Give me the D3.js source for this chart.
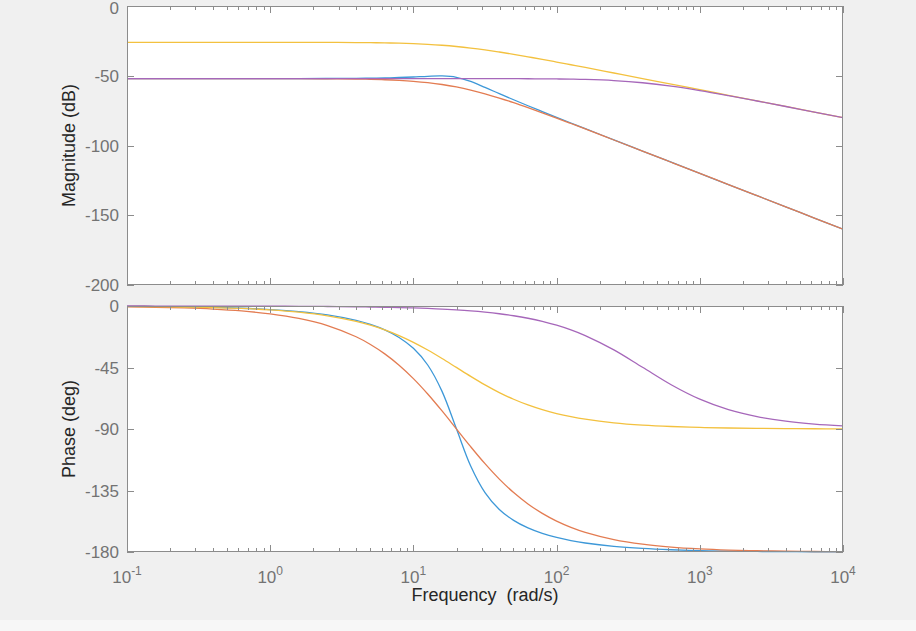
<!DOCTYPE html>
<html>
<head>
<meta charset="utf-8">
<script src="https://cdn.jsdelivr.net/npm/d3@7/dist/d3.min.js"></script>
<style>
  html, body { margin: 0; padding: 0; background: #f0f0f0; }
  svg { display: block; }
  text { font-family: "Liberation Sans", Arial, Helvetica, sans-serif; }
</style>
</head>
<body>
<svg id="chart" width="916" height="631"></svg>
<script>
// ---------- data ----------
const freq = [0.1, 0.1585, 0.2512, 0.3981, 0.631, 1, 1.585, 2.512, 3.981, 5.012, 6.31, 7.943,
  10, 12.59, 15.85, 19.95, 25.12, 31.62, 39.81, 50.12, 63.1, 79.43, 100, 125.9, 158.5,
  251.2, 398.1, 631, 1000, 1585, 2512, 3981, 6310, 10000];

const magBlue = [-52.04, -52.04, -52.04, -52.04, -52.04, -52.03, -52.01, -51.96, -51.84, -51.72, -51.54, -51.27,
  -50.88, -50.40, -50.15, -51.10, -54.11, -58.35, -62.83, -67.22, -71.50, -75.68, -79.80, -83.87, -87.92,
  -95.97, -103.99, -111.99, -120.00, -128.00, -136.00, -144.00, -152.00, -160.00];
const magOrange = [-52.04, -52.04, -52.04, -52.04, -52.05, -52.06, -52.10, -52.18, -52.38, -52.56, -52.86, -53.32,
  -53.98, -54.94, -56.28, -58.04, -60.26, -62.92, -65.96, -69.28, -72.84, -76.54, -80.34, -84.22, -88.14,
  -96.06, -104.02, -112.00, -120.00, -128.00, -136.00, -144.00, -152.00, -160.00];
const magYellow = [-26.02, -26.02, -26.02, -26.02, -26.03, -26.03, -26.05, -26.09, -26.19, -26.28, -26.43, -26.66,
  -26.99, -27.47, -28.14, -29.02, -30.13, -31.46, -32.98, -34.64, -36.42, -38.27, -40.17, -42.11, -44.07,
  -48.03, -52.01, -56.00, -60.00, -64.00, -68.00, -72.00, -76.00, -80.00];
const magPurple = [-52.04, -52.04, -52.04, -52.04, -52.04, -52.04, -52.04, -52.04, -52.04, -52.04, -52.04, -52.04,
  -52.04, -52.05, -52.05, -52.05, -52.06, -52.07, -52.08, -52.11, -52.15, -52.21, -52.30, -52.45, -52.67,
  -53.48, -55.03, -57.47, -60.64, -64.27, -68.11, -72.04, -76.02, -80.01];

const phBlue = [-0.26, -0.41, -0.65, -1.03, -1.63, -2.58, -4.11, -6.55, -10.57, -13.53, -17.50, -23.00,
  -30.96, -43.17, -62.46, -89.70, -117.06, -136.51, -148.84, -156.87, -162.40, -166.40, -169.38, -171.66, -173.42,
  -175.88, -177.40, -178.36, -178.97, -179.35, -179.59, -179.74, -179.84, -179.90];
const phOrange = [-0.57, -0.91, -1.44, -2.28, -3.62, -5.72, -9.06, -14.32, -22.52, -28.14, -35.02, -43.32,
  -53.13, -64.38, -76.80, -89.86, -102.94, -115.38, -126.66, -136.50, -144.82, -151.72, -157.38, -161.94, -165.62,
  -170.90, -174.24, -176.36, -177.70, -178.56, -179.08, -179.42, -179.64, -179.78];
const phYellow = [-0.29, -0.45, -0.72, -1.14, -1.81, -2.86, -4.53, -7.16, -11.26, -14.07, -17.51, -21.66,
  -26.57, -32.19, -38.40, -44.93, -51.47, -57.69, -63.33, -68.25, -72.41, -75.87, -78.69, -80.97, -82.81,
  -85.45, -87.12, -88.18, -88.85, -89.28, -89.54, -89.71, -89.82, -89.89];
const phPurple = [-0.01, -0.02, -0.04, -0.06, -0.09, -0.14, -0.23, -0.36, -0.57, -0.72, -0.90, -1.14,
  -1.43, -1.80, -2.27, -2.86, -3.59, -4.52, -5.68, -7.14, -8.96, -11.23, -14.04, -17.47, -21.62,
  -32.13, -44.86, -57.63, -68.20, -75.84, -80.95, -84.26, -86.37, -87.71];

const magTicks = [0, -50, -100, -150, -200];
const phaseTicks = [0, -45, -90, -135, -180];
const freqMajor = [0.1, 1, 10, 100, 1000, 10000];
const freqExp = ["-1", "0", "1", "2", "3", "4"];
const magLabel = "Magnitude (dB)";
const phaseLabel = "Phase (deg)";
const freqLabel = "Frequency  (rad/s)";
const seriesColors = ["#3d98d8", "#e37c52", "#f3c13f", "#a667ba"];

// ---------- layout ----------
const svg = d3.select("#chart");
svg.append("rect").attr("x", 0).attr("y", 0).attr("width", 916).attr("height", 631).attr("fill", "#f0f0f0");
svg.append("rect").attr("x", 0).attr("y", 620).attr("width", 916).attr("height", 11).attr("fill", "#f7f7f7");

const L = 127, R = 843;
const x = d3.scaleLog().domain([0.1, 10000]).range([L, R]);
const yMag = d3.scaleLinear().domain([-200, 0]).range([285, 6]);
const yPh = d3.scaleLinear().domain([-180, 0]).range([552, 306]);

const minor = [];
for (let d = -1; d < 4; d++) for (let k = 2; k <= 9; k++) minor.push(k * Math.pow(10, d));

const boxColor = "#8c8c8c";
const tickTextColor = "#737373";

function panel(id, yScale, yTicks, seriesMag, yLabel, showX) {
  const [y0, y1] = yScale.range(); // bottom, top
  const g = svg.append("g");
  g.append("rect").attr("x", L).attr("y", y1).attr("width", R - L).attr("height", y0 - y1).attr("fill", "#ffffff");
  g.append("clipPath").attr("id", id).append("rect")
    .attr("x", L).attr("y", y1 - 1).attr("width", R - L).attr("height", y0 - y1 + 2);

  const line = d3.line().x((d, i) => x(freq[i])).y(d => yScale(d)).curve(d3.curveCatmullRom.alpha(0.5));
  const lines = g.append("g").attr("clip-path", `url(#${id})`);
  seriesMag.forEach((s, i) => {
    lines.append("path").attr("d", line(s)).attr("fill", "none")
      .attr("stroke", seriesColors[i]).attr("stroke-width", 1.3).attr("stroke-linejoin", "round");
  });

  // box
  g.append("rect").attr("x", L + 0.5).attr("y", y1 + 0.5).attr("width", R - L - 1).attr("height", y0 - y1 - 1)
    .attr("fill", "none").attr("stroke", boxColor).attr("stroke-width", 1);

  // x ticks (inside, both top and bottom)
  const tk = g.append("g").attr("stroke", boxColor).attr("stroke-width", 1);
  freqMajor.forEach(f => {
    const px = Math.round(x(f)) + 0.5;
    tk.append("line").attr("x1", px).attr("x2", px).attr("y1", y0).attr("y2", y0 - 7);
    tk.append("line").attr("x1", px).attr("x2", px).attr("y1", y1).attr("y2", y1 + 7);
  });
  minor.forEach(f => {
    const px = Math.round(x(f)) + 0.5;
    tk.append("line").attr("x1", px).attr("x2", px).attr("y1", y0).attr("y2", y0 - 4);
    tk.append("line").attr("x1", px).attr("x2", px).attr("y1", y1).attr("y2", y1 + 4);
  });
  // y ticks
  yTicks.forEach(t => {
    const py = Math.round(yScale(t)) + 0.5;
    tk.append("line").attr("x1", L).attr("x2", L + 7).attr("y1", py).attr("y2", py);
    tk.append("line").attr("x1", R).attr("x2", R - 7).attr("y1", py).attr("y2", py);
    g.append("text").attr("x", L - 8).attr("y", Math.max(yScale(t), 8)).attr("dy", "0.36em")
      .attr("text-anchor", "end").attr("font-size", 17).attr("fill", tickTextColor).text(t);
  });

  g.append("text")
    .attr("transform", `translate(75,${(y0 + y1) / 2}) rotate(-90)`)
    .attr("text-anchor", "middle").attr("font-size", 18).attr("fill", "#262626").text(yLabel);

  if (showX) {
    freqMajor.forEach((f, i) => {
      const t = g.append("text").attr("x", x(f)).attr("y", 583).attr("text-anchor", "middle")
        .attr("font-size", 17).attr("fill", tickTextColor);
      t.append("tspan").text("10");
      t.append("tspan").attr("dy", -8).attr("font-size", 12).text(freqExp[i]);
    });
    g.append("text").attr("x", (L + R) / 2).attr("y", 601).attr("text-anchor", "middle")
      .attr("font-size", 18).attr("fill", "#262626").style("white-space", "pre").text(freqLabel);
  }
}

panel("clipMag", yMag, magTicks, [magBlue, magOrange, magYellow, magPurple], magLabel, false);
panel("clipPh", yPh, phaseTicks, [phBlue, phOrange, phYellow, phPurple], phaseLabel, true);
</script>
</body>
</html>
